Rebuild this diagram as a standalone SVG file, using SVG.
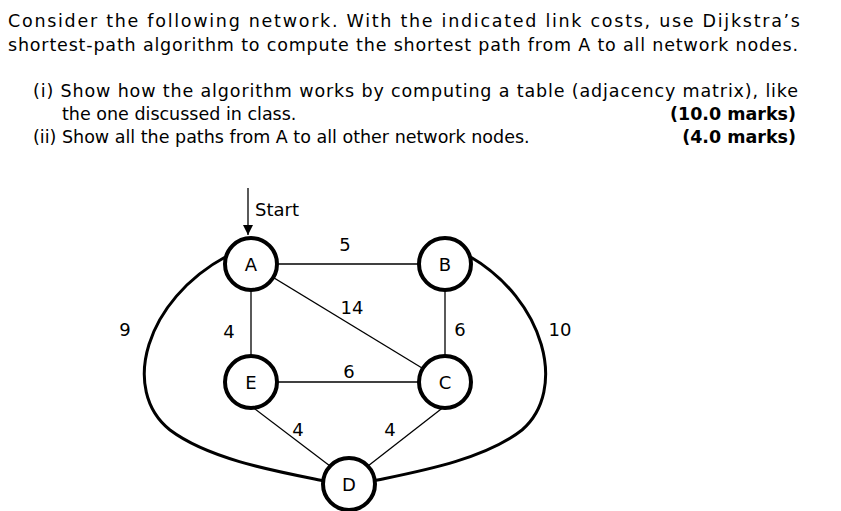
<svg xmlns="http://www.w3.org/2000/svg" width="841" height="511" viewBox="0 0 841 511">
<style>
text{font-family:"DejaVu Sans",Verdana,sans-serif;fill:#000}
.t{font-size:17.5px}
.l{font-size:18px}
.n circle{fill:#fff;stroke:#000;stroke-width:4}
.thin{stroke:#000;stroke-width:1.3;fill:none}
.thick{stroke:#000;stroke-width:3;fill:none}
</style>
<defs><marker id="ar" markerWidth="10" markerHeight="10" refX="10" refY="5" orient="auto" markerUnits="userSpaceOnUse"><path d="M0,0 L10,5 L0,10 Z"/></marker></defs>
<rect width="841" height="511" fill="#fff"/>
<text class="t" x="8" y="27" textLength="792" lengthAdjust="spacing">Consider the following network. With the indicated link costs, use Dijkstra’s</text>
<text class="t" x="8" y="51" textLength="790" lengthAdjust="spacing">shortest-path algorithm to compute the shortest path from A to all network nodes.</text>
<text class="t" x="33" y="97" textLength="765" lengthAdjust="spacing">(i) Show how the algorithm works by computing a table (adjacency matrix), like</text>
<text class="t" x="62" y="120">the one discussed in class.</text>
<text class="t" x="796" y="120" text-anchor="end" font-weight="bold">(10.0 marks)</text>
<text class="t" x="33" y="143">(ii) Show all the paths from A to all other network nodes.</text>
<text class="t" x="796" y="143" text-anchor="end" font-weight="bold">(4.0 marks)</text>
<g id="connectors">
<line class="thin" x1="248" y1="188" x2="248" y2="235" marker-end="url(#ar)"/>
<line class="thin" x1="251" y1="264" x2="445" y2="264"/>
<line class="thin" x1="251" y1="264" x2="251" y2="382"/>
<line class="thin" x1="445" y1="264" x2="445" y2="382"/>
<line class="thin" x1="251" y1="382" x2="445" y2="382"/>
<line class="thin" x1="251" y1="264" x2="445" y2="382"/>
<line class="thin" x1="251" y1="406" x2="330" y2="466"/>
<line class="thin" x1="445" y1="406" x2="368" y2="466"/>
<path class="thick" d="M227,256 C145,300 120,390 170,430 C210,460 280,472 325,481"/>
<path class="thick" d="M469,256 C545,300 568,390 522,430 C484,460 416,472 373,481"/>
</g>
<g class="l">
<text x="345" y="251" text-anchor="middle">5</text>
<text x="352" y="314" text-anchor="middle">14</text>
<text x="125" y="336" text-anchor="middle">9</text>
<text x="229" y="338" text-anchor="middle">4</text>
<text x="460" y="336" text-anchor="middle">6</text>
<text x="560" y="336" text-anchor="middle">10</text>
<text x="349" y="378" text-anchor="middle">6</text>
<text x="298" y="436" text-anchor="middle">4</text>
<text x="390" y="436" text-anchor="middle">4</text>
<text x="255" y="216">Start</text>
</g>
<g id="A" class="n"><circle cx="251" cy="264" r="26"/><text class="l" x="251" y="271" text-anchor="middle">A</text></g>
<g id="B" class="n"><circle cx="445" cy="264" r="26"/><text class="l" x="445" y="271" text-anchor="middle">B</text></g>
<g id="E" class="n"><circle cx="251" cy="382" r="26"/><text class="l" x="251" y="389" text-anchor="middle">E</text></g>
<g id="C" class="n"><circle cx="445" cy="382" r="26"/><text class="l" x="445" y="389" text-anchor="middle">C</text></g>
<g id="D" class="n"><circle cx="349" cy="484" r="26"/><text class="l" x="349" y="491" text-anchor="middle">D</text></g>
</svg>
